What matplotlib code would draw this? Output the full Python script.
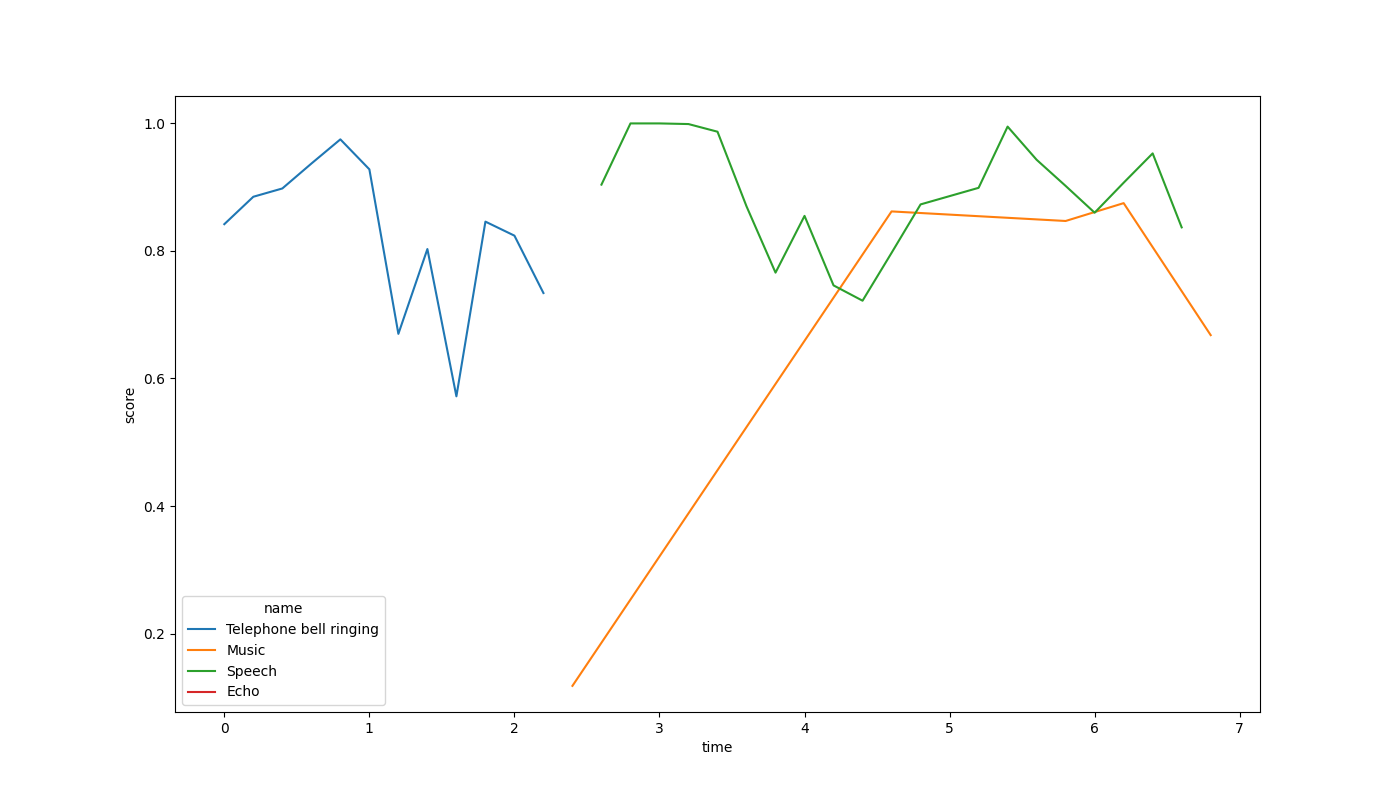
import matplotlib
matplotlib.use("Agg")
import matplotlib.pyplot as plt

names = ["Telephone bell ringing", "Music", "Speech", "Echo"]

tel_t = [0, 0.2, 0.4, 0.6, 0.8, 1.0, 1.2, 1.4, 1.6, 1.8, 2.0, 2.2]
tel_s = [0.842, 0.885, 0.898, 0.937, 0.975, 0.928, 0.670, 0.803, 0.572, 0.846, 0.824, 0.734]

mus_t = [2.4, 4.6, 5.8, 6.0, 6.2, 6.8]
mus_s = [0.118, 0.862, 0.847, 0.861, 0.875, 0.668]

sp_t = [2.6, 2.8, 3.0, 3.2, 3.4, 3.6, 3.8, 4.0, 4.2, 4.4, 4.6, 4.8, 5.0, 5.2, 5.4, 5.6, 5.8, 6.0, 6.2, 6.4, 6.6]
sp_s = [0.904, 1.0, 1.0, 0.999, 0.987, 0.870, 0.766, 0.855, 0.746, 0.722, 0.797, 0.873, 0.886, 0.899, 0.995, 0.943, 0.902, 0.860, 0.907, 0.953, 0.837]

echo_t = []
echo_s = []

fig, ax = plt.subplots(figsize=(14, 8), dpi=100)
for t, s, n in zip([tel_t, mus_t, sp_t, echo_t], [tel_s, mus_s, sp_s, echo_s], names):
    ax.plot(t, s, label=n)

ax.set_xlabel("time")
ax.set_ylabel("score")
ax.set_xlim(-0.34, 7.14)
ax.set_ylim(0.077, 1.043)
ax.legend(title="name", loc="lower left")
fig.savefig("out.png")
